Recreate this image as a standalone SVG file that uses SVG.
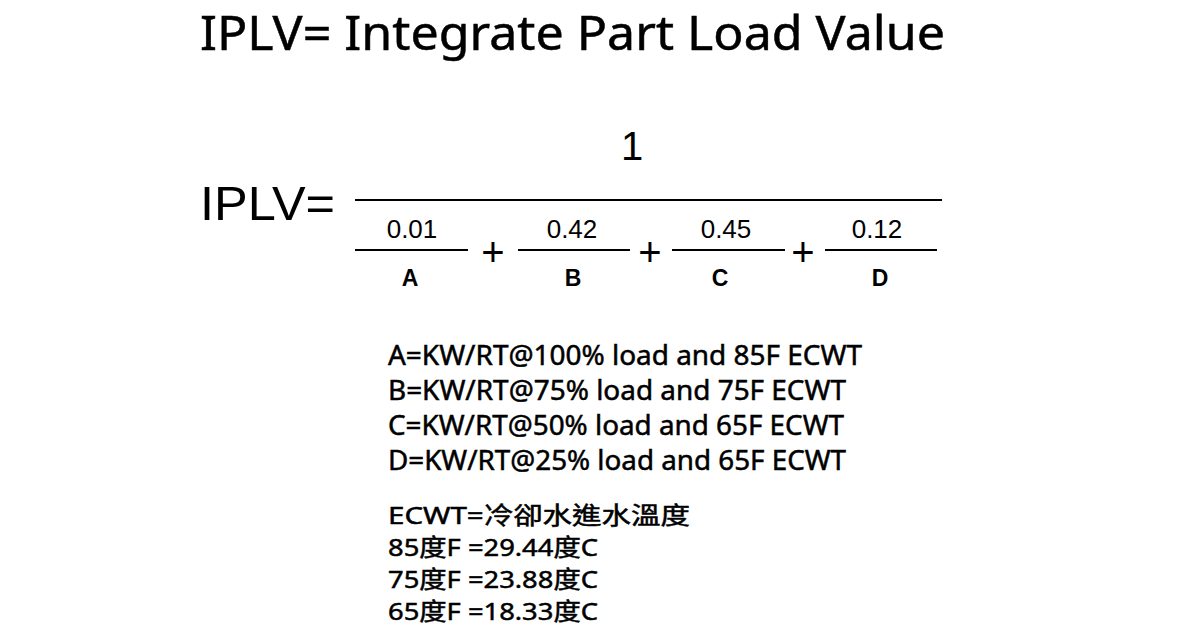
<svg xmlns="http://www.w3.org/2000/svg" width="1200" height="630" viewBox="0 0 1200 630">
<style>
.t{font-family:"Noto Sans","Noto Sans CJK TC",sans-serif;fill:#000;stroke:#000;stroke-width:0.5}
.a{font-family:"Liberation Sans",Arial,sans-serif;fill:#000}
.l{stroke:#000;stroke-width:2}
.b{font-size:27px}
.c{font-size:24px}
</style>
<rect width="1200" height="630" fill="#fff"/>
<text class="t" x="200" y="50" font-size="47" stroke-width="1" textLength="745" lengthAdjust="spacingAndGlyphs">IPLV= Integrate Part Load Value</text>
<text class="a" x="200" y="220" font-size="48" textLength="135" lengthAdjust="spacingAndGlyphs">IPLV=</text>
<text class="a" x="632" y="160" font-size="40" text-anchor="middle">1</text>
<line class="l" x1="355" y1="200" x2="942" y2="200"/>
<g class="a" font-size="26" text-anchor="middle">
<text x="412" y="238">0.01</text><text x="572" y="238">0.42</text><text x="726" y="238">0.45</text><text x="877" y="238">0.12</text>
</g>
<g class="a" font-size="23" font-weight="bold" text-anchor="middle">
<text x="410" y="286">A</text><text x="573" y="286">B</text><text x="720" y="286">C</text><text x="880" y="286">D</text>
</g>
<g class="a" font-size="40" text-anchor="middle">
<text x="493" y="266">+</text><text x="650" y="266">+</text><text x="803" y="266">+</text>
</g>
<line class="l" x1="355" y1="250" x2="468" y2="250"/>
<line class="l" x1="518" y1="250" x2="630" y2="250"/>
<line class="l" x1="672" y1="250" x2="785" y2="250"/>
<line class="l" x1="825" y1="250" x2="937" y2="250"/>
<g class="t b">
<text x="388" y="365" textLength="474" lengthAdjust="spacingAndGlyphs">A=KW/RT@100% load and 85F ECWT</text>
<text x="388" y="400" textLength="458" lengthAdjust="spacingAndGlyphs">B=KW/RT@75% load and 75F ECWT</text>
<text x="388" y="435" textLength="456" lengthAdjust="spacingAndGlyphs">C=KW/RT@50% load and 65F ECWT</text>
<text x="388" y="470" textLength="458" lengthAdjust="spacingAndGlyphs">D=KW/RT@25% load and 65F ECWT</text>
</g>
<g class="t c">
<text x="388" y="524" textLength="302" lengthAdjust="spacingAndGlyphs">ECWT=冷卻水進水溫度</text>
<text x="388" y="556" textLength="210" lengthAdjust="spacingAndGlyphs">85度F =29.44度C</text>
<text x="388" y="588" textLength="210" lengthAdjust="spacingAndGlyphs">75度F =23.88度C</text>
<text x="388" y="620" textLength="210" lengthAdjust="spacingAndGlyphs">65度F =18.33度C</text>
</g>
</svg>
